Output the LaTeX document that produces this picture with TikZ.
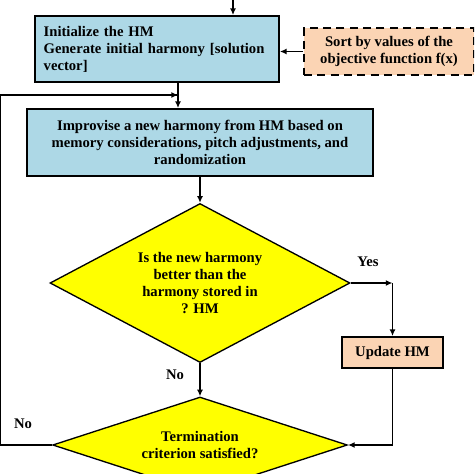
\documentclass[tikz,border=0pt]{standalone}
\usepackage{fontspec}
\setmainfont{Liberation Serif}
\usepackage{tikz}
\usepackage{xcolor}
\usetikzlibrary{shapes.geometric, arrows.meta, positioning, calc}
\definecolor{procblue}{RGB}{173,216,230}
\definecolor{peach}{RGB}{251,212,180}
\definecolor{decyellow}{RGB}{255,255,0}
\tikzstyle{label} = [font=\bfseries\fontsize{11}{12.75}\selectfont]
\tikzstyle{process} = [rectangle, draw, line width=1.4pt, fill=procblue, label, inner sep=4pt]
\tikzstyle{sidebox} = [rectangle, draw, line width=1.4pt, fill=peach, label, align=center, inner sep=2pt]
\tikzstyle{decision} = [diamond, draw, line width=1pt, fill=decyellow, label, align=center, inner sep=0pt]
\tikzstyle{arrow} = [-{Latex[length=5pt,width=4.5pt]}, line width=1.2pt]
\tikzstyle{line} = [line width=1.2pt]

\begin{document}
\begin{tikzpicture}[x=0.75pt, y=-0.75pt]
    \useasboundingbox (0,0) rectangle (474,474);
    \clip (0,0) rectangle (474,474);

    % Initialization
    \node[process, minimum width=183pt, minimum height=49.5pt, text width=170pt, align=left] (init) at (157,49)
        {Initialize the HM\\Generate initial harmony [solution\\vector]};
    \node[sidebox, dash pattern=on 6pt off 4pt, minimum width=127.5pt, minimum height=35.25pt] (sort) at (389,51.5)
        {Sort by values of the\\objective function f(x)};
    \coordinate (start) at (233,-5);
    \draw[arrow] (start) -- (start |- init.north);
    \draw[arrow] (sort.west) -- (sort.west -| init.east);

    % Improvisation
    \node[process, minimum width=259.5pt, minimum height=50.25pt, align=center] (improv) at (200,142.5)
        {Improvise a new harmony from HM based on\\memory considerations, pitch adjustments, and\\randomization};
    \coordinate (join) at (178,95);
    \draw[arrow] (join |- init.south) -- (join |- improv.north);

    % Decisions
    \node[decision, aspect=1.89, minimum width=225pt, minimum height=119.25pt] (better) at (200,283)
        {Is the new harmony\\better than the\\harmony stored in\\? HM};
    \node[decision, aspect=3.07, minimum width=221pt, minimum height=72pt] (stop) at (200,445)
        {Termination\\criterion satisfied?};
    \draw[arrow] (improv.south -| better.north) -- (better.north);
    \draw[arrow] (better.south) -- (stop.north);
    \node[label] (nolabel) at (175,375) {No};

    % Update branch
    \node[sidebox, minimum width=75.75pt, minimum height=23.25pt] (update) at (392.5,352.5) {Update HM};
    \coordinate (yescorner) at (392.5,283);
    \draw[arrow] (better.east) -- (yescorner);
    \draw[arrow] (yescorner) -- (update.north);
    \node[label] (yeslabel) at (368,262) {Yes};
    \draw[arrow] (update.south) |- (stop.east);

    % Loop back
    \draw[line] (stop.west) -- ++(-52,0) |- (join);
    \draw[arrow] ($(join)+(-5,0)$) -- (join);
    \node[label] (loopno) at (23,424) {No};
\end{tikzpicture}
\end{document}
